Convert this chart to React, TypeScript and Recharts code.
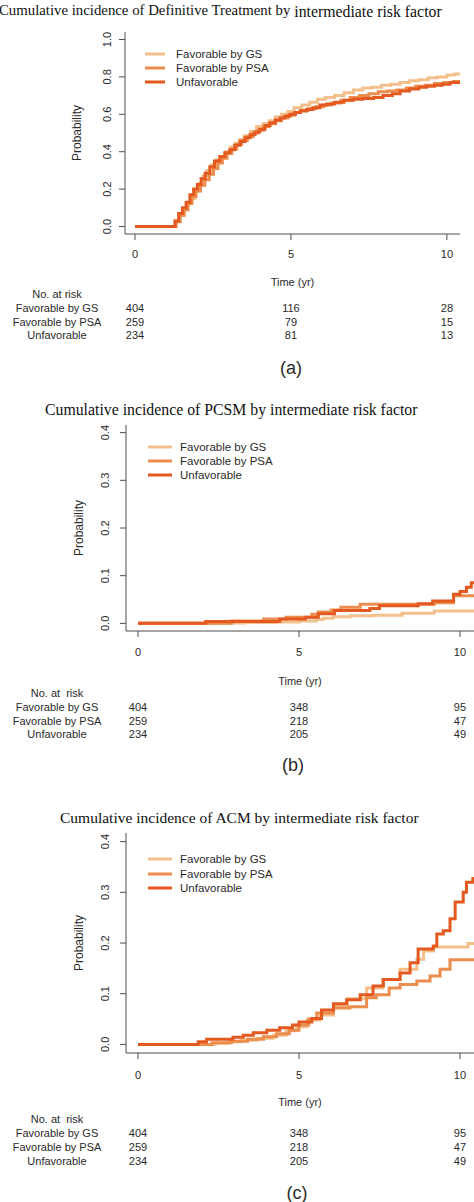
import React from 'react';
import { LineChart, Line, XAxis, YAxis, Legend } from 'recharts';

const SANS = '"Liberation Sans", Arial, sans-serif';
const SERIF = '"Liberation Serif", "Times New Roman", serif';
const INK = '#2a2a2a';
const AXIS = '#4f4f4f';

const groups = ['Favorable by GS', 'Favorable by PSA', 'Unfavorable'];
const groupColors = ['#F3BF8B', '#EB8D4D', '#E3591F'];
const timeTicks = [0, 5, 10];

// (a) definitive treatment
const dtGsT = [0, 1.2, 1.3, 1.42, 1.55, 1.68, 1.8, 1.92, 2.05, 2.18, 2.3, 2.45, 2.6, 2.75, 2.9, 3.05, 3.2, 3.35, 3.5, 3.7, 3.9, 4.1, 4.3, 4.5, 4.7, 4.9, 5.1, 5.35, 5.6, 5.85, 6.1, 6.4, 6.7, 7.0, 7.3, 7.6, 7.9, 8.2, 8.5, 8.8, 9.1, 9.4, 9.7, 10.0, 10.25, 10.5];
const dtGsP = [0, 0, 0.03, 0.06, 0.09, 0.12, 0.15, 0.19, 0.23, 0.27, 0.3, 0.33, 0.355, 0.375, 0.4, 0.425, 0.445, 0.465, 0.485, 0.51, 0.535, 0.55, 0.565, 0.585, 0.6, 0.615, 0.635, 0.65, 0.665, 0.68, 0.69, 0.7, 0.715, 0.73, 0.74, 0.745, 0.755, 0.76, 0.77, 0.78, 0.785, 0.795, 0.8, 0.81, 0.815, 0.82];
const dtPsaT = [0, 1.22, 1.32, 1.45, 1.58, 1.7, 1.83, 1.96, 2.1, 2.24, 2.38, 2.52, 2.66, 2.8, 2.95, 3.1, 3.26, 3.42, 3.6, 3.78, 3.95, 4.12, 4.3, 4.5, 4.7, 4.9, 5.1, 5.3, 5.55, 5.8, 6.05, 6.3, 6.6, 6.9, 7.2, 7.5, 7.8, 8.1, 8.4, 8.7, 9.0, 9.3, 9.6, 9.9, 10.2, 10.5];
const dtPsaP = [0, 0, 0.025, 0.06, 0.09, 0.125, 0.16, 0.19, 0.22, 0.25, 0.28, 0.31, 0.34, 0.365, 0.39, 0.415, 0.44, 0.46, 0.48, 0.5, 0.515, 0.535, 0.55, 0.565, 0.58, 0.595, 0.61, 0.62, 0.63, 0.64, 0.65, 0.66, 0.675, 0.69, 0.7, 0.71, 0.72, 0.725, 0.73, 0.74, 0.75, 0.755, 0.765, 0.77, 0.775, 0.78];
const dtUnfT = [0, 1.18, 1.28, 1.4, 1.52, 1.64, 1.76, 1.88, 2.0, 2.12, 2.25, 2.4, 2.55, 2.72, 2.88, 3.04, 3.2, 3.37, 3.53, 3.69, 3.85, 4.0, 4.17, 4.33, 4.5, 4.65, 4.8, 4.97, 5.15, 5.3, 5.5, 5.7, 5.93, 6.15, 6.4, 6.7, 7.0, 7.3, 7.65, 7.95, 8.25, 8.5, 8.8, 9.1, 9.35, 9.6, 9.85, 10.1, 10.5];
const dtUnfP = [0, 0, 0.03, 0.07, 0.1, 0.13, 0.17, 0.2, 0.225, 0.255, 0.285, 0.32, 0.35, 0.375, 0.395, 0.41, 0.435, 0.455, 0.475, 0.49, 0.505, 0.52, 0.54, 0.555, 0.57, 0.58, 0.59, 0.6, 0.61, 0.617, 0.625, 0.635, 0.65, 0.655, 0.665, 0.675, 0.68, 0.685, 0.69, 0.7, 0.71, 0.725, 0.735, 0.745, 0.75, 0.755, 0.76, 0.77, 0.78];
const dtAtRisk = [[404, 116, 28], [259, 79, 15], [234, 81, 13]];

// (b) prostate cancer specific mortality
const pcGsT = [0, 2.4, 3.3, 4.3, 5.0, 5.55, 5.75, 6.05, 6.6, 7.3, 8.2, 9.2, 10.6];
const pcGsP = [0, 0.001, 0.002, 0.003, 0.005, 0.008, 0.011, 0.014, 0.016, 0.017, 0.021, 0.026, 0.026];
const pcPsaT = [0, 2.9, 3.9, 4.6, 5.4, 5.6, 6.0, 6.3, 6.9, 9.2, 9.8, 10.6];
const pcPsaP = [0, 0.005, 0.009, 0.013, 0.019, 0.024, 0.028, 0.034, 0.04, 0.043, 0.058, 0.058];
const pcUnfT = [0, 2.1, 4.4, 5.2, 5.6, 6.1, 7.2, 7.5, 8.7, 9.15, 9.8, 10.0, 10.2, 10.35, 10.6];
const pcUnfP = [0, 0.004, 0.009, 0.013, 0.02, 0.027, 0.031, 0.037, 0.041, 0.047, 0.061, 0.067, 0.076, 0.085, 0.088];
const pcAtRisk = [[404, 348, 95], [259, 218, 47], [234, 205, 49]];

// (c) all cause mortality
const acGsT = [0, 2.4, 2.8, 3.2, 3.7, 4.2, 4.6, 4.93, 5.25, 5.65, 6.07, 6.5, 7.1, 7.6, 8.14, 8.66, 8.87, 9.17, 10.25, 10.6];
const acGsP = [0, 0.002, 0.005, 0.008, 0.012, 0.018, 0.027, 0.035, 0.048, 0.058, 0.075, 0.09, 0.111, 0.128, 0.148, 0.168, 0.184, 0.192, 0.199, 0.199];
const acPsaT = [0, 2.3, 2.9, 3.4, 3.9, 4.3, 4.7, 5.0, 5.3, 5.55, 6.07, 6.58, 7.1, 7.4, 7.8, 8.14, 8.66, 9.07, 9.38, 9.69, 10.6];
const acPsaP = [0, 0.003, 0.006, 0.01, 0.015, 0.021, 0.028, 0.038, 0.05, 0.062, 0.072, 0.074, 0.092, 0.098, 0.111, 0.118, 0.125, 0.135, 0.148, 0.167, 0.167];
const acUnfT = [0, 1.87, 2.13, 2.95, 3.27, 3.58, 4.0, 4.4, 4.8, 5.0, 5.4, 5.7, 6.07, 6.48, 6.9, 7.3, 7.62, 8.14, 8.45, 8.7, 9.17, 9.28, 9.48, 9.69, 9.85, 10.1, 10.2, 10.4, 10.6];
const acUnfP = [0, 0.005, 0.01, 0.014, 0.018, 0.023, 0.028, 0.033, 0.038, 0.044, 0.051, 0.068, 0.08, 0.088, 0.098, 0.115, 0.128, 0.141, 0.161, 0.188, 0.194, 0.218, 0.224, 0.248, 0.281, 0.3, 0.32, 0.327, 0.33];
const acAtRisk = [[404, 348, 95], [259, 218, 47], [234, 205, 49]];

const zip = (ts: number[], ps: number[]) => ts.map((t, i) => ({ t, p: ps[i] }));

const panels = [
  {
    key: 'a',
    title: 'Cumulative incidence of Definitive Treatment by',
    titleTail: ' intermediate risk factor',
    titleLeft: -1, titleY: 10, titleSize: 14.8, tailSize: 15.8,
    top: 0, marginTop: 32, plotH: 202, footerH: 150, right: 14, yAxisW: 125,
    xDomain: [-0.32, 10.42], yDomain: [-0.04, 1.04], yTicks: [0, 0.2, 0.4, 0.6, 0.8, 1.0],
    yLabelX: 107, probX: 77,
    tickDy: 20, timeDy: 48, headDy: 60, rowDy: [74, 88, 101], letterDy: 134, letterX: 291,
    header: 'No. at risk', letter: '(a)',
    legendLeft: 145, legendTop: 47, legendLine: 20, legendGap: 11, legendRow: 14,
    series: [zip(dtGsT, dtGsP), zip(dtPsaT, dtPsaP), zip(dtUnfT, dtUnfP)],
    atRisk: dtAtRisk,
  },
  {
    key: 'b',
    title: 'Cumulative incidence of PCSM by intermediate risk factor',
    titleTail: '',
    titleLeft: 45, titleY: 20, titleSize: 15.8, tailSize: 15.8,
    top: 390, marginTop: 35, plotH: 206, footerH: 150, right: 0, yAxisW: 126,
    xDomain: [-0.373, 10.435], yDomain: [-0.016, 0.416], yTicks: [0, 0.1, 0.2, 0.3, 0.4],
    yLabelX: 105, probX: 79,
    tickDy: 21, timeDy: 50, headDy: 62, rowDy: [76, 90, 103], letterDy: 134, letterX: 293,
    header: 'No. at  risk', letter: '(b)',
    legendLeft: 148, legendTop: 50, legendLine: 24, legendGap: 8, legendRow: 14,
    series: [zip(pcGsT, pcGsP), zip(pcPsaT, pcPsaP), zip(pcUnfT, pcUnfP)],
    atRisk: pcAtRisk,
  },
  {
    key: 'c',
    title: 'Cumulative incidence of ACM by intermediate risk factor',
    titleTail: '',
    titleLeft: 60, titleY: 28, titleSize: 15.5, tailSize: 15.5,
    top: 790, marginTop: 43, plotH: 220, footerH: 149, right: 0, yAxisW: 126,
    xDomain: [-0.373, 10.435], yDomain: [-0.017, 0.417], yTicks: [0, 0.1, 0.2, 0.3, 0.4],
    yLabelX: 105, probX: 79,
    tickDy: 22, timeDy: 49, headDy: 66, rowDy: [80, 94, 108], letterDy: 140, letterX: 297,
    header: 'No. at  risk', letter: '(c)',
    legendLeft: 148, legendTop: 62, legendLine: 24, legendGap: 8, legendRow: 14.5,
    series: [zip(acGsT, acGsP), zip(acPsaT, acPsaP), zip(acUnfT, acUnfP)],
    atRisk: acAtRisk,
  },
];

type Cfg = (typeof panels)[number];

function TimeTick(props: any) {
  const { x, payload, cfg } = props;
  const axisY = cfg.marginTop + cfg.plotH;
  const idx = timeTicks.indexOf(payload.value);
  const txt = { fontFamily: SANS, fontSize: 11, fill: INK, textAnchor: 'middle' as const, dominantBaseline: 'central' as const };
  return (
    <g>
      <text x={x} y={axisY + cfg.tickDy} {...txt}>{payload.value}</text>
      {cfg.atRisk.map((row: number[], r: number) => (
        <text key={r} x={x} y={axisY + cfg.rowDy[r]} {...txt}>{row[idx]}</text>
      ))}
    </g>
  );
}

function Footer({ cfg }: { cfg: Cfg }) {
  const axisY = cfg.marginTop + cfg.plotH;
  const left = cfg.yAxisW;
  const mid = (left + 474 - cfg.right) / 2;
  const txt = { fontFamily: SANS, fontSize: 11, fill: INK, textAnchor: 'middle' as const, dominantBaseline: 'central' as const };
  return (
    <g>
      <text x={mid} y={axisY + cfg.timeDy} {...txt}>Time (yr)</text>
      <text x={57} y={axisY + cfg.headDy} {...txt} style={{ whiteSpace: 'pre' }}>{cfg.header}</text>
      {groups.map((g, r) => (
        <text key={g} x={57} y={axisY + cfg.rowDy[r]} {...txt}>{g}</text>
      ))}
      <text x={cfg.letterX} y={axisY + cfg.letterDy} {...txt} fontSize={18}>{cfg.letter}</text>
    </g>
  );
}

function ProbTick(props: any) {
  const { y, payload, cfg } = props;
  const x = cfg.yLabelX;
  return (
    <text x={x} y={y} transform={`rotate(-90 ${x} ${y})`} textAnchor="middle" dominantBaseline="central"
      fontFamily={SANS} fontSize={11} fill={INK}>
      {Number(payload.value).toFixed(1)}
    </text>
  );
}

function ProbLabel({ cfg }: { cfg: Cfg }) {
  const y = cfg.marginTop + cfg.plotH / 2;
  return (
    <text x={cfg.probX} y={y} transform={`rotate(-90 ${cfg.probX} ${y})`} textAnchor="middle" dominantBaseline="central"
      fontFamily={SANS} fontSize={12} fill={INK}>
      Probability
    </text>
  );
}

function LegendBox({ cfg }: { cfg: Cfg }) {
  return (
    <div style={{ fontFamily: SANS, fontSize: 11.5, color: INK }}>
      {groups.map((g, i) => (
        <div key={g} style={{ display: 'flex', alignItems: 'center', height: cfg.legendRow, whiteSpace: 'nowrap' }}>
          <svg width={cfg.legendLine} height={4} style={{ display: 'block' }}>
            <line x1={0} x2={cfg.legendLine} y1={2} y2={2} stroke={groupColors[i]} strokeWidth={3} />
          </svg>
          <span style={{ marginLeft: cfg.legendGap }}>{g}</span>
        </div>
      ))}
    </div>
  );
}

function Panel({ cfg }: { cfg: Cfg }) {
  const height = cfg.marginTop + cfg.plotH + cfg.footerH;
  return (
    <div style={{ position: 'absolute', left: 0, top: cfg.top, width: 474, height }}>
      <div style={{ position: 'absolute', left: cfg.titleLeft, top: cfg.titleY - 9, lineHeight: '18px', fontFamily: SERIF, fontSize: cfg.titleSize, color: '#111', whiteSpace: 'nowrap', zIndex: 2 }}>
        {cfg.title}
        {cfg.titleTail && <span style={{ position: 'relative', top: 2, fontSize: cfg.tailSize }}>{cfg.titleTail}</span>}
      </div>
      <LineChart width={474} height={height} margin={{ top: cfg.marginTop, right: cfg.right, bottom: 0, left: 0 }}>
        <XAxis
          type="number"
          dataKey="t"
          domain={cfg.xDomain}
          allowDataOverflow
          ticks={timeTicks}
          interval={0}
          height={cfg.footerH}
          tickSize={6}
          stroke={AXIS}
          tick={<TimeTick cfg={cfg} />}
          label={<Footer cfg={cfg} />}
        />
        <YAxis
          type="number"
          domain={cfg.yDomain}
          allowDataOverflow
          ticks={cfg.yTicks}
          interval={0}
          width={cfg.yAxisW}
          tickSize={6}
          stroke={AXIS}
          tick={<ProbTick cfg={cfg} />}
          label={<ProbLabel cfg={cfg} />}
        />
        <Legend
          layout="vertical"
          align="center"
          verticalAlign="middle"
          wrapperStyle={{ left: cfg.legendLeft, top: cfg.legendTop, width: 'auto', height: 'auto' }}
          content={() => <LegendBox cfg={cfg} />}
        />
        {cfg.series.map((s, i) => (
          <Line
            key={groups[i]}
            name={groups[i]}
            data={s}
            dataKey="p"
            type="stepAfter"
            stroke={groupColors[i]}
            strokeWidth={3}
            dot={false}
            activeDot={false}
            isAnimationActive={false}
          />
        ))}
      </LineChart>
    </div>
  );
}

export default function App() {
  return (
    <div style={{ position: 'absolute', left: 0, top: 0, width: 474, height: 1202, background: '#fff', overflow: 'hidden' }}>
      {panels.map((p) => (
        <Panel key={p.key} cfg={p} />
      ))}
    </div>
  );
}
